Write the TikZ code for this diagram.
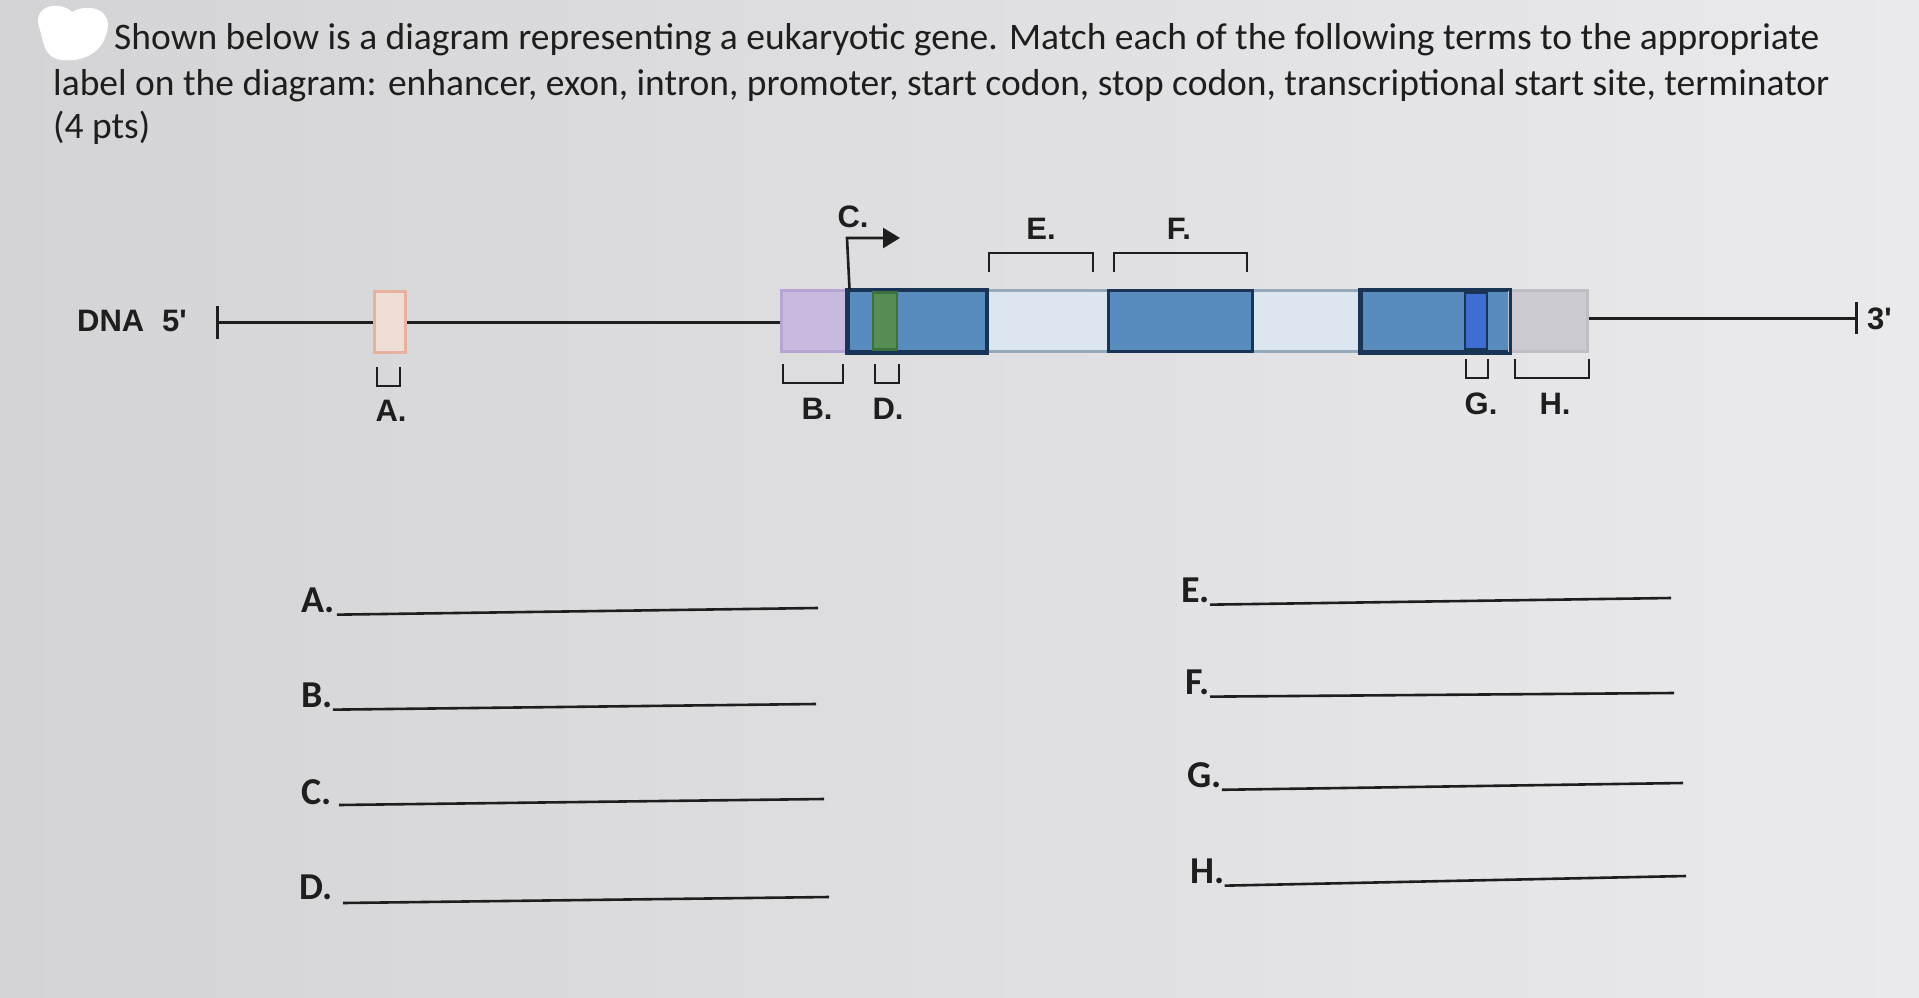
\documentclass[tikz,border=0pt]{standalone}
\usepackage{fontspec}
\setmainfont{Carlito}
\newfontfamily\labfont{Liberation Sans}
\usetikzlibrary{arrows.meta}
\definecolor{bgL}{RGB}{212,212,214}
\definecolor{bgR}{RGB}{234,234,236}
\definecolor{ink}{RGB}{30,30,30}
\definecolor{enhB}{RGB}{228,178,158}
\definecolor{enhF}{RGB}{238,222,214}
\definecolor{proF}{RGB}{200,186,222}
\definecolor{proB}{RGB}{182,164,210}
\definecolor{exF}{RGB}{88,140,190}
\definecolor{exB}{RGB}{26,52,86}
\definecolor{grF}{RGB}{84,142,84}
\definecolor{grB}{RGB}{60,112,60}
\definecolor{inF}{RGB}{220,230,240}
\definecolor{inB}{RGB}{150,170,190}
\definecolor{stF}{RGB}{62,110,210}
\definecolor{teF}{RGB}{202,202,208}
\definecolor{teB}{RGB}{190,190,196}
\tikzset{
  x=1pt, y=-1pt,
  blk/.style={draw, line width=3pt, inner sep=0pt, minimum height=61pt},
  enh/.style={blk, draw=enhB, fill=enhF, minimum width=31pt},
  pro/.style={blk, draw=proB, fill=proF, minimum width=67pt},
  exo/.style={blk, draw=exB, fill=exF},
  intr/.style={inner sep=0pt, fill=inF, minimum height=61pt},
  ter/.style={blk, draw=teB, fill=teF, minimum width=78pt},
  stripe/.style={draw, line width=2.5pt, inner sep=0pt, minimum height=57pt},
  dna/.style={line width=3pt, draw=ink},
  brk/.style={line width=2.6pt, draw=ink},
  lab/.style={font=\labfont\bfseries\fontsize{31}{34}\selectfont, text=ink, inner sep=0pt},
  ans/.style={font=\bfseries\fontsize{38}{44}\selectfont, text=ink, inner sep=0pt},
  ttl/.style={font=\fontsize{37.5}{44}\selectfont, text=ink, inner sep=0pt, anchor=west},
  aline/.style={line width=2.6pt, draw=ink}
}
\begin{document}
\begin{tikzpicture}
\shade[left color=bgL, right color=bgR] (0,0) rectangle (1919,998);
\useasboundingbox (0,0) rectangle (1919,998);
% redaction blob
\fill[white] (40,30) .. controls (30,5) and (60,0) .. (72,12) .. controls (90,2) and (115,10) .. (106,35) .. controls (100,55) and (80,62) .. (62,60) .. controls (45,58) and (44,45) .. (40,30) -- cycle;
% title
\node[ttl] (t1) at (114,40) {Shown below is a diagram representing a eukaryotic gene. Match each of the following terms to the appropriate};
\node[ttl] (t2) at (53,86) {label on the diagram: enhancer, exon, intron, promoter, start codon, stop codon, transcriptional start site, terminator};
\node[ttl] (t3) at (53,128) {(4 pts)};
% DNA strand
\node[lab, anchor=west] (dnal) at (77,321) {DNA};
\node[lab, anchor=west] (five) at (162,321) {5\textquotesingle};
\coordinate (t5) at (217,322);
\draw[dna] (217,306) -- (217,339);
\node[enh] (A) at (390,322) {};
\coordinate (t3p) at (1856,318);
\draw[dna] (1856,302) -- (1856,334);
\node[lab, anchor=west] (three) at (1867,319) {3\textquotesingle};
% introns (behind)
\node[intr, minimum width=122pt] (I1) at (1047,321) {};
\node[intr, minimum width=109pt] (I2) at (1306.5,321) {};
\draw[inB, line width=3pt] (I1.north west) -- (I2.north east);
\draw[inB, line width=3pt] (I1.south west) -- (I2.south east);
% promoter, exons
\node[pro] (B) at (814.5,321) {};
\node[exo, minimum width=138pt] (X1) at (917,321) {};
\node[stripe, draw=grB, fill=grF, minimum width=24pt] (D) at (885,321) {};
\node[exo, minimum width=144pt] (X2) at (1180,321) {};
\node[exo, minimum width=148pt] (X3) at (1435,321) {};
\node[stripe, draw=exB, fill=stF, minimum width=22pt] (G) at (1476,321) {};
\node[ter] (H) at (1548,321) {};
\draw[exB, line width=3pt] (X1.north west) rectangle (X1.south east);
\draw[exB, line width=3pt] (X3.north west) rectangle (X3.south east);
% DNA lines between nodes
\draw[dna] (t5) -- (A.west |- t5);
\draw[dna] (A.east |- 0,322) -- (B.west |- 0,322);
\draw[dna] (H.east |- t3p) -- (t3p);
% transcription start arrow
\coordinate (cc) at (847,238);
\draw[line width=2.6pt, draw=ink, -{Triangle[length=17pt, width=20pt]}] (B.north east) -- (cc) -- (900,238);
\node[lab] (Cl) at (853,217) {C.};
% brackets below
\draw[brk] (377,367) -- (377,386) -- (400,386) -- (400,367);
\node[lab] (Al) at (391,411) {A.};
\draw[brk] (783,364) -- (783,383) -- (843,383) -- (843,364);
\node[lab] (Bl) at (817,409) {B.};
\draw[brk] (875,364) -- (875,383) -- (899,383) -- (899,364);
\node[lab] (Dl) at (888,409) {D.};
\draw[brk] (1466,359) -- (1466,378) -- (1488,378) -- (1488,359);
\node[lab] (Gl) at (1481,404) {G.};
\draw[brk] (1515,359) -- (1515,378) -- (1589,378) -- (1589,359);
\node[lab] (Hl) at (1555,404) {H.};
% brackets above
\draw[brk] (989,272) -- (989,253) -- (1093,253) -- (1093,272);
\node[lab] (El) at (1041,229) {E.};
\draw[brk] (1114,272) -- (1114,253) -- (1247,253) -- (1247,272);
\node[lab] (Fl) at (1179,229) {F.};
% answer lines
\node[ans, anchor=west] (aA) at (301,600) {A.};
\draw[aline] (aA.south east) ++(2,2) coordinate (sA) -- (818,608);
\node[ans, anchor=west] (aB) at (301,695) {B.};
\draw[aline] (aB.south east) ++(0,2) coordinate (sB) -- (816,704);
\node[ans, anchor=west] (aC) at (301,792) {C.};
\draw[aline] (339,805) coordinate (sC) -- (824,799);
\node[ans, anchor=west] (aD) at (299,887) {D.};
\draw[aline] (343,903) coordinate (sD) -- (829,897);
\node[ans, anchor=west] (aE) at (1181,590) {E.};
\draw[aline] (aE.south east) ++(0,2) coordinate (sE) -- (1671,598);
\node[ans, anchor=west] (aF) at (1185,682) {F.};
\draw[aline] (aF.south east) ++(0,2) coordinate (sF) -- (1674,693);
\node[ans, anchor=west] (aG) at (1187,775) {G.};
\draw[aline] (aG.south east) ++(0,2) coordinate (sG) -- (1683,783);
\node[ans, anchor=west] (aH) at (1190,871) {H.};
\draw[aline] (aH.south east) ++(0,2) coordinate (sH) -- (1686,876);
\end{tikzpicture}
\end{document}
